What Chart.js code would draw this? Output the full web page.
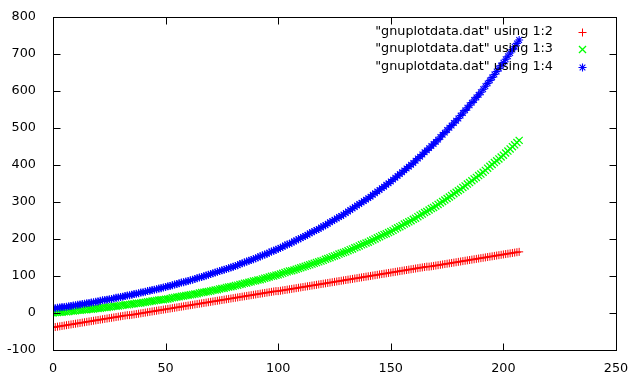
<!DOCTYPE html>
<html>
<head>
<meta charset="utf-8">
<script src="https://cdn.jsdelivr.net/npm/chart.js@4"></script>
<style>
  html, body { margin: 0; padding: 0; background: #ffffff; }
  #wrap { width: 640px; height: 384px; }
</style>
</head>
<body>
<div id="wrap"><canvas id="c" width="640" height="384"></canvas></div>
<script>
// ---------------- DATA ----------------
const xValues = [
  0,1,2,3,4,5,6,7,8,9,
  10,11,12,13,14,15,16,17,18,19,
  20,21,22,23,24,25,26,27,28,29,
  30,31,32,33,34,35,36,37,38,39,
  40,41,42,43,44,45,46,47,48,49,
  50,51,52,53,54,55,56,57,58,59,
  60,61,62,63,64,65,66,67,68,69,
  70,71,72,73,74,75,76,77,78,79,
  80,81,82,83,84,85,86,87,88,89,
  90,91,92,93,94,95,96,97,98,99,
  100,101,102,103,104,105,106,107,108,109,
  110,111,112,113,114,115,116,117,118,119,
  120,121,122,123,124,125,126,127,128,129,
  130,131,132,133,134,135,136,137,138,139,
  140,141,142,143,144,145,146,147,148,149,
  150,151,152,153,154,155,156,157,158,159,
  160,161,162,163,164,165,166,167,168,169,
  170,171,172,173,174,175,176,177,178,179,
  180,181,182,183,184,185,186,187,188,189,
  190,191,192,193,194,195,196,197,198,199,
  200,201,202,203,204,205,206,207
];

const series12 = [
  -39,-38,-37,-36,-35,-34,-33,-32,-31,-30,
  -29,-28,-27,-26,-25,-24,-23,-22,-21,-20,
  -19,-18,-17,-16,-15,-14,-13,-12,-11,-10,
  -9,-8,-7,-6,-6,-5,-4,-3,-2,-1,
  0,1,2,3,4,5,6,7,8,9,
  10,11,12,13,14,15,16,17,18,19,
  20,21,22,23,24,25,26,27,28,29,
  30,31,32,33,34,35,36,37,38,39,
  40,41,42,43,44,45,46,47,48,49,
  50,51,52,53,54,55,56,57,58,59,
  59,60,61,62,63,64,65,66,67,68,
  69,70,71,72,73,74,75,76,77,78,
  79,80,81,82,83,84,85,86,87,88,
  89,90,91,92,93,94,95,96,97,98,
  99,100,101,102,103,104,105,106,107,108,
  109,110,111,112,113,114,115,116,117,118,
  119,120,121,122,123,124,125,125,126,127,
  128,129,130,131,132,133,134,135,136,137,
  138,139,140,141,142,143,144,145,146,147,
  148,149,150,151,152,153,154,155,156,157,
  158,159,160,161,162,163,164,165
];

const series13 = [
  0,1,1,2,2,3,3,4,5,5,
  6,7,7,8,9,9,10,10,11,12,
  12,13,14,15,15,16,17,18,18,19,
  20,21,22,22,23,24,25,26,26,27,
  28,29,30,31,32,33,34,35,36,36,
  37,38,39,41,42,43,44,45,46,47,
  48,49,50,51,52,54,55,56,57,58,
  59,61,62,63,65,66,67,69,70,71,
  72,74,75,77,78,80,81,83,84,86,
  87,89,90,92,94,95,97,99,100,102,
  103,105,107,109,111,113,114,116,118,120,
  122,124,126,128,130,132,134,136,138,140,
  142,145,147,149,152,154,156,159,161,163,
  165,168,171,173,176,178,181,184,186,189,
  191,194,197,200,203,206,209,212,214,217,
  220,223,227,230,233,236,240,243,246,249,
  253,256,260,264,267,271,274,278,282,285,
  289,293,297,301,305,309,313,317,322,326,
  330,334,339,343,348,352,357,362,366,371,
  375,380,385,391,396,401,406,411,416,421,
  426,432,437,443,449,454,460,466
];

const series14 = [
  12,13,14,15,16,16,17,18,19,20,
  21,22,23,24,25,26,27,28,29,30,
  31,33,34,35,36,37,38,39,41,42,
  43,44,46,47,48,49,51,52,53,55,
  56,57,59,60,62,63,64,66,67,69,
  70,72,73,75,77,78,80,82,83,85,
  86,88,90,92,94,96,97,99,101,103,
  105,107,109,111,113,115,117,119,121,123,
  125,127,129,132,134,136,139,141,143,145,
  148,150,153,155,158,160,163,166,168,171,
  173,176,179,182,185,187,190,193,196,199,
  202,205,208,211,215,218,221,224,227,231,
  234,237,241,245,248,252,255,259,262,266,
  270,274,278,282,286,290,294,298,302,306,
  310,314,319,323,328,332,337,341,346,350,
  355,360,365,370,375,380,385,390,395,400,
  405,411,417,422,428,434,439,445,451,456,
  462,468,475,481,487,494,500,506,513,519,
  525,533,540,547,554,561,568,575,582,589,
  596,604,612,620,628,636,644,652,660,668,
  676,685,693,702,711,719,728,737
];

const seriesLabels = [
  '"gnuplotdata.dat" using 1:2',
  '"gnuplotdata.dat" using 1:3',
  '"gnuplotdata.dat" using 1:4'
];
const xTicks = [0, 50, 100, 150, 200, 250];
const yTicks = [-100, 0, 100, 200, 300, 400, 500, 600, 700, 800];

// ---------------- CHART ----------------
const FONT = 'DejaVu Sans';
const FONT_SIZE = 12.8;

function toPoints(ys) {
  return xValues.map((x, i) => ({ x: x, y: ys[i] }));
}

const styles = [
  { color: '#ff0000', pointStyle: 'cross', radius: 4, width: 1 },
  { color: '#00ff00', pointStyle: 'crossRot', radius: 5, width: 1.3 },
  { color: '#0000ff', pointStyle: 'star', radius: 4, width: 1.1 }
];

function drawMark(ctx, style, x, y) {
  ctx.save();
  ctx.strokeStyle = style.color;
  ctx.lineWidth = style.width;
  ctx.beginPath();
  const r = style.radius;
  if (style.pointStyle === 'cross' || style.pointStyle === 'star') {
    ctx.moveTo(x - r, y); ctx.lineTo(x + r, y);
    ctx.moveTo(x, y - r); ctx.lineTo(x, y + r);
  }
  if (style.pointStyle === 'crossRot' || style.pointStyle === 'star') {
    const d = r * Math.SQRT1_2;
    ctx.moveTo(x - d, y - d); ctx.lineTo(x + d, y + d);
    ctx.moveTo(x - d, y + d); ctx.lineTo(x + d, y - d);
  }
  ctx.stroke();
  ctx.restore();
}

const framePlugin = {
  id: 'gnuframe',
  afterDraw(chart) {
    const ctx = chart.ctx;
    const a = chart.chartArea;
    const xs = chart.scales.x, ys = chart.scales.y;
    const L = Math.round(a.left) + 0.5, R = Math.round(a.right) + 0.5;
    const T = Math.round(a.top) + 0.5, B = Math.round(a.bottom) + 0.5;
    const tl = 7;
    ctx.save();
    ctx.strokeStyle = '#000000';
    ctx.lineWidth = 1;
    ctx.beginPath();
    xTicks.forEach(v => {
      const px = Math.round(xs.getPixelForValue(v)) + 0.5;
      ctx.moveTo(px, B); ctx.lineTo(px, B - tl);
      ctx.moveTo(px, T); ctx.lineTo(px, T + tl);
    });
    yTicks.forEach(v => {
      const py = Math.round(ys.getPixelForValue(v)) + 0.5;
      ctx.moveTo(L, py); ctx.lineTo(L + tl, py);
      ctx.moveTo(R, py); ctx.lineTo(R - tl, py);
    });
    ctx.stroke();
    ctx.strokeRect(L, T, R - L, B - T);

    // key (legend)
    ctx.font = FONT_SIZE + 'px "' + FONT + '"';
    ctx.fillStyle = '#000000';
    ctx.textAlign = 'right';
    ctx.textBaseline = 'middle';
    const textRight = 553;
    const markX = 582;
    const row0 = 31.5, rowStep = 17.5;
    seriesLabels.forEach((lab, i) => {
      const y = row0 + i * rowStep;
      ctx.fillText(lab, textRight, y);
      drawMark(ctx, styles[i], markX + 0.5, Math.round(y) + 0.5);
    });
    ctx.restore();
  }
};

const datasets = [series12, series13, series14].map((ys, i) => ({
  label: seriesLabels[i],
  data: toPoints(ys),
  showLine: false,
  pointStyle: styles[i].pointStyle,
  pointRadius: styles[i].radius,
  pointHoverRadius: styles[i].radius,
  borderColor: styles[i].color,
  backgroundColor: styles[i].color,
  pointBorderWidth: styles[i].width,
  order: 2 - i
}));

new Chart(document.getElementById('c'), {
  type: 'scatter',
  data: { datasets: datasets },
  options: {
    responsive: false,
    animation: false,
    devicePixelRatio: 1,
    layout: { padding: { top: 16, right: 24, left: 0, bottom: 0 } },
    plugins: {
      legend: { display: false },
      tooltip: { enabled: false }
    },
    scales: {
      x: {
        type: 'linear',
        min: 0, max: 250,
        afterFit(scale) { scale.height = 34; },
        afterBuildTicks(scale) { scale.ticks = xTicks.map(v => ({ value: v })); },
        grid: { display: false },
        border: { display: false },
        ticks: {
          color: '#000000',
          padding: 3,
          maxRotation: 0,
          font: { family: FONT, size: FONT_SIZE }
        }
      },
      y: {
        type: 'linear',
        min: -100, max: 800,
        afterFit(scale) { scale.width = 53; },
        afterBuildTicks(scale) { scale.ticks = yTicks.map(v => ({ value: v })); },
        grid: { display: false },
        border: { display: false },
        ticks: {
          color: '#000000',
          padding: 9,
          font: { family: FONT, size: FONT_SIZE }
        }
      }
    }
  },
  plugins: [framePlugin]
});
</script>
</body>
</html>
